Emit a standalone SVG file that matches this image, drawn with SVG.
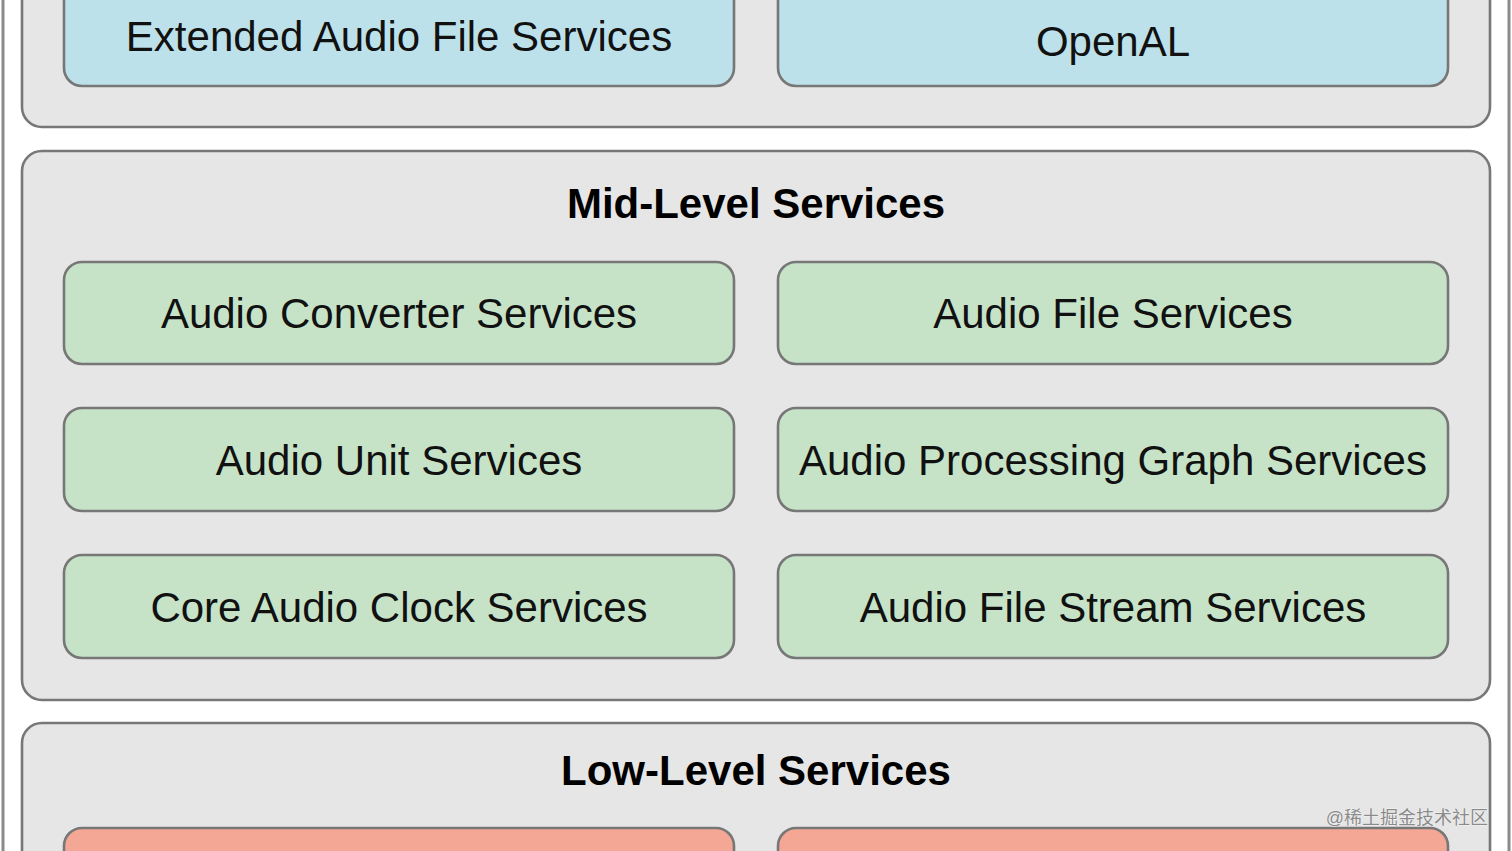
<svg xmlns="http://www.w3.org/2000/svg" width="1512" height="851" viewBox="0 0 1512 851">
<style>
.panel{fill:#e6e6e6;stroke:#777;stroke-width:2.6}
.box{stroke:#777;stroke-width:2.6}
.blue{fill:#bde1ea}
.green{fill:#c6e3c8}
.salmon{fill:#f3a794}
.t{font-family:"Liberation Sans",Arial,sans-serif;font-size:42px;fill:#111;text-anchor:middle}
.h{font-family:"Liberation Sans",Arial,sans-serif;font-size:42px;font-weight:bold;fill:#000;text-anchor:middle}
.wm{font-family:"Liberation Sans","Noto Sans CJK SC",sans-serif;font-size:18px;fill:#8a8a8a;stroke:#fff;stroke-width:0.6;paint-order:stroke;text-anchor:end}
</style>
<rect x="0" y="0" width="1512" height="851" fill="#ffffff"/>
<line x1="3" y1="0" x2="3" y2="851" stroke="#8a8a8a" stroke-width="3"/>
<line x1="1509" y1="0" x2="1509" y2="851" stroke="#8a8a8a" stroke-width="3"/>

<g id="high-level">
<rect class="panel" x="22" y="-40" width="1468" height="167" rx="20"/>
</g>
<g id="extended-audio-file-services">
<rect class="box blue" x="64" y="-30" width="670" height="116" rx="18"/>
<text class="t" x="399" y="51">Extended Audio File Services</text>
</g>
<g id="openal">
<rect class="box blue" x="778" y="-30" width="670" height="116" rx="18"/>
<text class="t" x="1113" y="56">OpenAL</text>
</g>

<g id="mid-level">
<rect class="panel" x="22" y="151" width="1468" height="549" rx="20"/>
<text class="h" x="756" y="218">Mid-Level Services</text>
</g>
<g id="audio-converter-services">
<rect class="box green" x="64" y="262" width="670" height="102" rx="18"/>
<text class="t" x="399" y="328">Audio Converter Services</text>
</g>
<g id="audio-file-services">
<rect class="box green" x="778" y="262" width="670" height="102" rx="18"/>
<text class="t" x="1113" y="328">Audio File Services</text>
</g>
<g id="audio-unit-services">
<rect class="box green" x="64" y="408" width="670" height="103" rx="18"/>
<text class="t" x="399" y="475">Audio Unit Services</text>
</g>
<g id="audio-processing-graph-services">
<rect class="box green" x="778" y="408" width="670" height="103" rx="18"/>
<text class="t" x="1113" y="475">Audio Processing Graph Services</text>
</g>
<g id="core-audio-clock-services">
<rect class="box green" x="64" y="555" width="670" height="103" rx="18"/>
<text class="t" x="399" y="622">Core Audio Clock Services</text>
</g>
<g id="audio-file-stream-services">
<rect class="box green" x="778" y="555" width="670" height="103" rx="18"/>
<text class="t" x="1113" y="622">Audio File Stream Services</text>
</g>

<g id="low-level">
<rect class="panel" x="22" y="723" width="1468" height="200" rx="20"/>
<text class="h" x="756" y="785">Low-Level Services</text>
</g>
<g id="low-left">
<rect class="box salmon" x="64" y="828" width="670" height="100" rx="18"/>
</g>
<g id="low-right">
<rect class="box salmon" x="778" y="828" width="670" height="100" rx="18"/>
</g>
<g id="connectors"></g>
<text class="wm" x="1488" y="824">@稀土掘金技术社区</text>
</svg>
